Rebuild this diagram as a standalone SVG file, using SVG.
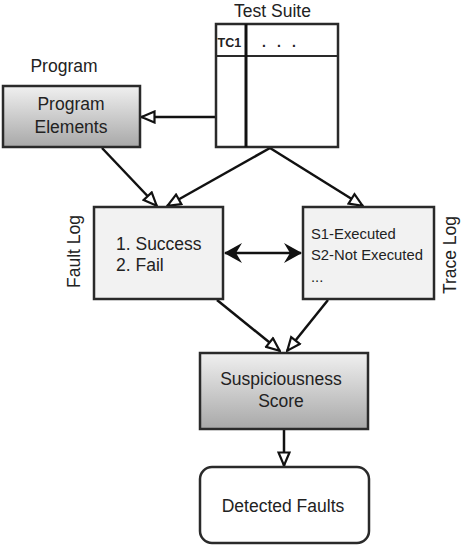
<svg xmlns="http://www.w3.org/2000/svg" width="464" height="546" viewBox="0 0 464 546">
<style>
text{font-family:"Liberation Sans",Arial,sans-serif;fill:#222;font-size:17.5px}
.box{stroke:#2a2a2a;stroke-width:2.5}
.plain{fill:#f2f2f2}
.grad{fill:url(#g)}
.line{stroke:#111;stroke-width:2.5;fill:none}
.c{text-anchor:middle}
</style>
<defs>
<linearGradient id="g" x1="0" y1="0" x2="0" y2="1">
<stop offset="0" stop-color="#f0f0f0"/>
<stop offset="1" stop-color="#a8a8a8"/>
</linearGradient>
<marker id="tri" viewBox="0 0 16 14" refX="15" refY="7" markerWidth="16" markerHeight="14" markerUnits="userSpaceOnUse" orient="auto">
<path d="M1.5,1.5 L14.5,7 L1.5,12.5 Z" fill="#fff" stroke="#111" stroke-width="2.2"/>
</marker>
<marker id="arr" viewBox="0 0 18 20" refX="17" refY="10" markerWidth="18" markerHeight="20" markerUnits="userSpaceOnUse" orient="auto-start-reverse">
<path d="M0,0 L18,10 L0,20 L6,10 Z" fill="#111"/>
</marker>
</defs>

<g id="connectors">
<path class="line" d="M216,117 L141,117" marker-end="url(#tri)"/>
<path class="line" d="M102,148 L157,206" marker-end="url(#tri)"/>
<path class="line" d="M270,148 L167,206" marker-end="url(#tri)"/>
<path class="line" d="M270,148 L363,206" marker-end="url(#tri)"/>
<path class="line" d="M225,253 L301,253" marker-start="url(#arr)" marker-end="url(#arr)"/>
<path class="line" d="M217,300 L280,351" marker-end="url(#tri)"/>
<path class="line" d="M328,300 L287,351" marker-end="url(#tri)"/>
<path class="line" d="M284,430 L284,466" marker-end="url(#tri)"/>
</g>

<g id="test-suite">
<text class="c" x="272.5" y="17">Test Suite</text>
<rect class="box" x="216" y="24" width="122" height="123" fill="#fff"/>
<line x1="216" y1="56" x2="338" y2="56" stroke="#2a2a2a" stroke-width="2"/>
<line x1="246" y1="24" x2="246" y2="147" stroke="#111" stroke-width="3"/>
<text x="217.5" y="47" style="font-size:12.5px;font-weight:bold">TC1</text>
<text x="262" y="47" style="font-size:14px;font-weight:bold;letter-spacing:3.6px">. . .</text>
</g>

<g id="program-elements">
<text class="c" x="64" y="72">Program</text>
<rect class="box grad" x="3" y="86" width="137" height="61"/>
<text class="c" x="71" y="110">Program</text>
<text class="c" x="71" y="133">Elements</text>
</g>

<g id="fault-log">
<rect class="box plain" x="94" y="207" width="129" height="92"/>
<text x="116" y="250">1. Success</text>
<text x="116" y="271">2. Fail</text>
<text class="c" transform="translate(80,251.5) rotate(-90)">Fault Log</text>
</g>

<g id="trace-log">
<rect class="box plain" x="303" y="207" width="131" height="92"/>
<text x="311" y="239" style="font-size:14.8px">S1-Executed</text>
<text x="311" y="260" style="font-size:14.8px">S2-Not Executed</text>
<text x="311" y="282" style="font-size:14.8px">...</text>
<text class="c" transform="translate(456,255) rotate(-90)">Trace Log</text>
</g>

<g id="suspiciousness-score">
<rect class="box grad" x="200" y="353" width="168" height="76"/>
<text class="c" x="281" y="385">Suspiciousness</text>
<text class="c" x="281" y="407">Score</text>
</g>

<g id="detected-faults">
<rect class="box" x="200" y="467" width="169" height="76" rx="12" fill="#fff"/>
<text class="c" x="283" y="512">Detected Faults</text>
</g>
</svg>
